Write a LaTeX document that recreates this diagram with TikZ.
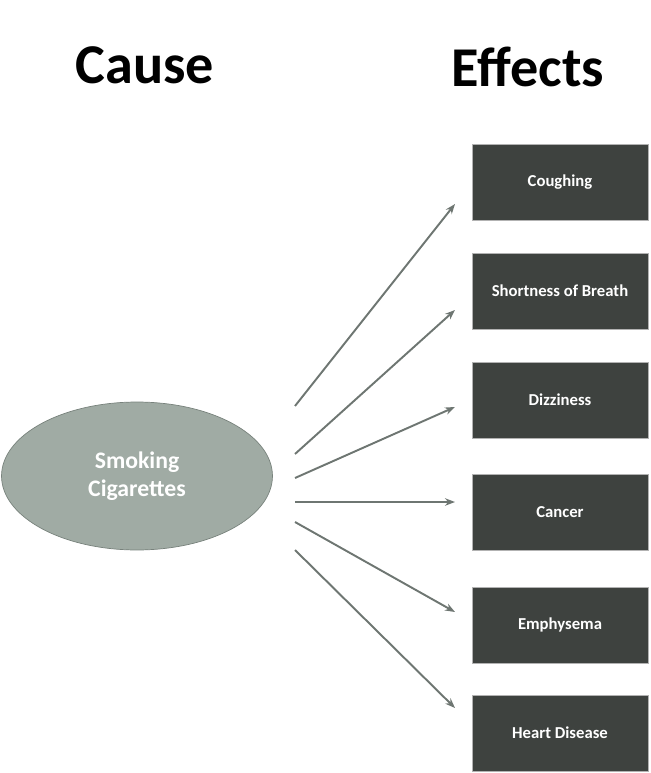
\documentclass[tikz,border=0pt]{standalone}
\usepackage{fontspec}
\setmainfont{Carlito}
\usetikzlibrary{arrows.meta, positioning, shapes.geometric}
\definecolor{causegray}{RGB}{160, 171, 164}
\definecolor{causeedge}{RGB}{120, 130, 124}
\definecolor{effectdark}{RGB}{62, 66, 63}
\definecolor{edgegray}{RGB}{110, 118, 114}

\begin{document}
\begin{tikzpicture}[x=0.02cm, y=-0.02cm,
    effect/.style={rectangle, minimum width=3.52cm, minimum height=1.52cm, align=center, font=\fontsize{9.5}{11}\selectfont\bfseries, text=white, fill=effectdark, draw=gray!60},
    arrow/.style={-{Stealth[length=2mm]}, line width=1.1pt, edgegray}
]
\useasboundingbox (0,0) rectangle (650,773);

% Titles
\node[font=\fontsize{32}{36}\selectfont\bfseries] (cause) at (145,65) {Cause};
\node[font=\fontsize{32}{36}\selectfont\bfseries] (effects) at (528,67) {Effects};

% Cause ellipse
\node[ellipse, fill=causegray, draw=causeedge, minimum width=5.42cm, minimum height=2.96cm, align=center, text=white, font=\fontsize{13.5}{16}\selectfont\bfseries] (smoking) at (137,476) {Smoking\\Cigarettes};

% Effect boxes
\node[effect] (cough) at (560,182) {Coughing};
\node[effect] (breath) at (560,291) {Shortness of Breath};
\node[effect] (dizzy) at (560,400) {Dizziness};
\node[effect] (cancer) at (560,512) {Cancer};
\node[effect] (emph) at (560,625) {Emphysema};
\node[effect] (heart) at (560,733) {Heart Disease};

% Arrow ends
\coordinate (s1) at (295,406); \coordinate (e1) at (455,204);
\coordinate (s2) at (295,454); \coordinate (e2) at (455,310);
\coordinate (s3) at (295,478); \coordinate (e3) at (455,407);
\coordinate (s4) at (295,502); \coordinate (e4) at (455,502);
\coordinate (s5) at (295,522); \coordinate (e5) at (455,612);
\coordinate (s6) at (295,550); \coordinate (e6) at (455,708);

% Connecting arrows
\foreach \i in {1,...,6} {
    \draw[arrow] (s\i) -- (e\i);
}
\end{tikzpicture}
\end{document}
